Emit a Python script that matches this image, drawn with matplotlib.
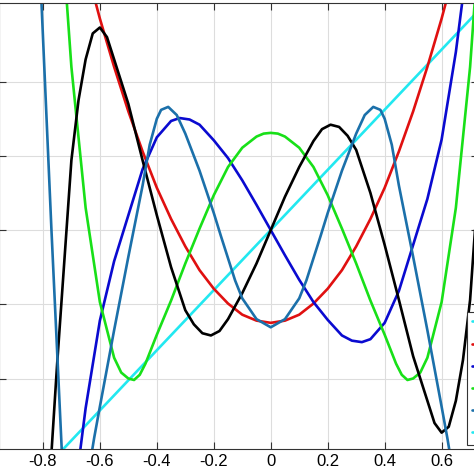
import numpy as np
import matplotlib
matplotlib.use("Agg")
import matplotlib.pyplot as plt

plt.rcParams['font.family'] = ['Liberation Sans', 'DejaVu Sans']

# values (x >= 0 side; even/odd curves mirrored)
cyan_x = [-0.8, 0.75]
cyan_y = [-3.24, 3.04]

red_xp = [0, 0.05, 0.1, 0.15, 0.2, 0.25, 0.3, 0.35, 0.4, 0.45, 0.5, 0.55, 0.6, 0.65]
red_yp = [-1.25, -1.22, -1.14, -0.99, -0.79, -0.54, -0.22, 0.15, 0.57, 1.06, 1.60, 2.20, 2.85, 3.57]

green_xp = [0, 0.025, 0.05, 0.1, 0.15, 0.2, 0.25, 0.3, 0.35, 0.4, 0.44, 0.46, 0.48, 0.5, 0.525, 0.55, 0.6, 0.65, 0.7, 0.75]
green_yp = [1.31, 1.30, 1.26, 1.11, 0.85, 0.47, 0.02, -0.45, -0.95, -1.41, -1.80, -1.95, -2.02, -2.0, -1.92, -1.72, -0.97, 0.3, 2.2, 4.9]

black_xp = [0, 0.05, 0.1, 0.15, 0.18, 0.21, 0.24, 0.27, 0.3, 0.35, 0.4, 0.45, 0.5, 0.55, 0.575, 0.6, 0.625, 0.65, 0.675, 0.7, 0.75, 0.78]
black_yp = [0, 0.45, 0.85, 1.2, 1.36, 1.42, 1.39, 1.27, 1.08, 0.5, -0.2, -0.94, -1.7, -2.3, -2.6, -2.73, -2.65, -2.3, -1.75, -0.94, 1.8, 3.6]

blue_xp = [0, 0.05, 0.1, 0.15, 0.2, 0.25, 0.285, 0.32, 0.35, 0.4, 0.45, 0.5, 0.55, 0.6, 0.65, 0.7]
blue_yp = [0, -0.34, -0.67, -0.97, -1.21, -1.42, -1.49, -1.51, -1.47, -1.25, -0.82, -0.2, 0.42, 1.22, 2.4, 3.9]

steel_xp = [0, 0.05, 0.1, 0.125, 0.15, 0.175, 0.2, 0.25, 0.3, 0.33, 0.36, 0.385, 0.4, 0.425, 0.45, 0.475, 0.5, 0.55, 0.6, 0.62, 0.65, 0.67, 0.69, 0.71, 0.734, 0.77, 0.805, 0.83]
steel_yp = [-1.31, -1.2, -0.92, -0.68, -0.38, -0.08, 0.23, 0.8, 1.3, 1.55, 1.66, 1.62, 1.5, 1.15, 0.6, 0.12, -0.36, -1.35, -2.38, -2.8, -3.5, -3.9, -4.05, -3.8, -2.95, 0.0, 3.06, 5.5]

xticks = [-0.8, -0.6, -0.4, -0.2, 0, 0.2, 0.4, 0.6]
xticklabels = ['-0.8', '-0.6', '-0.4', '-0.2', '0', '0.2', '0.4', '0.6']
labels = ['P1', 'P2', 'P3', 'P4', 'P5', 'P6']


def even(xp, yp):
    xp = np.array(xp); yp = np.array(yp)
    return np.concatenate([-xp[::-1], xp[1:]]), np.concatenate([yp[::-1], yp[1:]])


def odd(xp, yp):
    xp = np.array(xp); yp = np.array(yp)
    return np.concatenate([-xp[::-1], xp[1:]]), np.concatenate([-yp[::-1], yp[1:]])


fig = plt.figure(figsize=(4.74, 4.74), dpi=100)
ax = fig.add_axes([-0.002, 25 / 474, 1.01, 446 / 474])
lw = 1.9
kw = dict(lw=lw, solid_joinstyle='round', solid_capstyle='round')
h1, = ax.plot(cyan_x, cyan_y, color='#22e8f0', **kw)
h2, = ax.plot(*even(red_xp, red_yp), color='#e01010', **kw)
h3, = ax.plot(*odd(blue_xp, blue_yp), color='#0a0ad0', **kw)
h4, = ax.plot(*even(green_xp, green_yp), color='#18e018', **kw)
h5, = ax.plot(*odd(black_xp, black_yp), color='black', **kw)
h6, = ax.plot(*even(steel_xp, steel_yp), color='#1b70aa', **kw)

ax.set_xlim(-0.954, 0.727)
ax.set_ylim(-2.95, 3.06)
ax.set_xticks(xticks)
ax.set_xticklabels(xticklabels, fontsize=12)
ax.set_yticks([-2, -1, 0, 1, 2])
ax.set_yticklabels([])
ax.tick_params(direction='in', top=True, right=True, length=5, color='#333333')
ax.grid(True, color='#dddddd', lw=0.8)
ax.set_axisbelow(True)
for s in ax.spines.values():
    s.set_color('#333333')

leg = ax.legend([h1, h2, h3, h4, h6, h1], labels, loc='lower left',
                bbox_to_anchor=(467 / 474, 29 / 474), bbox_transform=fig.transFigure,
                fontsize=9.5, fancybox=False, edgecolor='#333333', framealpha=1,
                handlelength=2, labelspacing=0.75, borderaxespad=0)
leg.get_frame().set_linewidth(0.8)
leg.set_zorder(10)

fig.savefig('out.png', dpi=100)
